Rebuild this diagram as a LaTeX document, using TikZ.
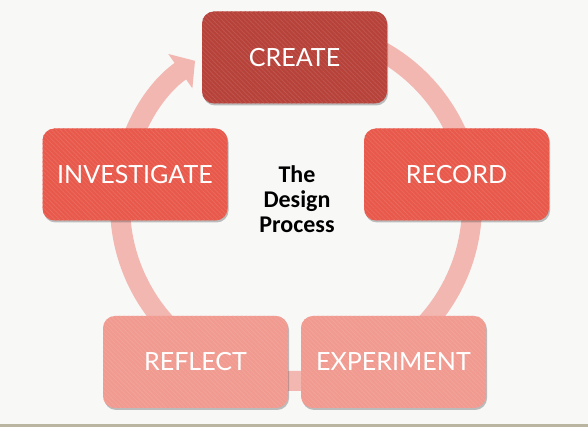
\documentclass[tikz,border=0pt]{standalone}
\usepackage{fontspec}
\setmainfont{Lato}
\newfontfamily\titlefont{Carlito}
\usetikzlibrary{arrows.meta,shadows,patterns.meta}
\definecolor{paper}{HTML}{F8F8F7}
\definecolor{floor}{HTML}{B9B5A1}
\definecolor{ringpink}{HTML}{F3B7B1}
\definecolor{createred}{HTML}{B7423A}
\definecolor{midred}{HTML}{E8594B}
\definecolor{palered}{HTML}{F19A90}
\begin{document}
\begin{tikzpicture}[x=0.75pt,y=0.75pt,
    stage/.style={rounded corners=9pt, minimum width=138.75pt, minimum height=69pt,
        inner sep=0pt, text=white, font=\fontsize{18.8}{22}\selectfont, fill=#1,
        postaction={pattern={Lines[angle=-45, distance=2.4pt, line width=0.6pt]}, pattern color=#1!90!white},
        drop shadow={shadow xshift=0.8pt, shadow yshift=-1.5pt, fill=black!70, opacity=0.35}},
    ring/.style={line width=15pt, ringpink, -{Triangle[width=30.75pt, length=13.5pt]}}]
        \fill[paper] (0,0) rectangle (588,427);
        \fill[floor] (0,0) rectangle (588,3);

        % the cycle behind the boxes
        \coordinate (hub) at (296,222);
        \draw[ring] ([shift={(90:132pt)}]hub) arc[start angle=90, end angle=-235, radius=132pt];

        \node [stage=createred](create) at (294.5,369.5) {CREATE};
        \node [stage=midred](record) at (456.5,252.5) {RECORD};
        \node [stage=palered](experiment) at (393.5,65) {EXPERIMENT};
        \node [stage=palered](reflect) at (195.5,65) {REFLECT};
        \node [stage=midred](investigate) at (135,252.5) {INVESTIGATE};

        \node [align=center, font=\titlefont\bfseries\fontsize{18}{18.75}\selectfont](title) at (297,228) {The\\Design\\Process};
\end{tikzpicture}
\end{document}
